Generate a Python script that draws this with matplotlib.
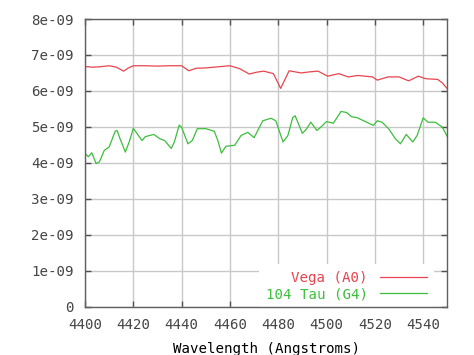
import numpy as np
import matplotlib
matplotlib.use("Agg")
import matplotlib.pyplot as plt
from matplotlib.ticker import FuncFormatter

# Vega (A0) spectrum (flux in 1e-9 units)
wl_vega = [4400, 4403, 4406, 4410, 4413, 4416, 4418, 4420, 4425, 4430, 4435, 4440,
           4443, 4446, 4450, 4455, 4460, 4464, 4468, 4471, 4474, 4478, 4481, 4484.5,
           4489.5, 4493, 4496.5, 4500.5, 4505, 4509, 4513, 4519, 4521, 4525.5, 4530,
           4534, 4538, 4541, 4546, 4548, 4550]
flux_vega = [6.68, 6.66, 6.67, 6.70, 6.66, 6.55, 6.64, 6.70, 6.70, 6.69, 6.70, 6.70,
             6.56, 6.63, 6.64, 6.67, 6.70, 6.62, 6.47, 6.52, 6.55, 6.48, 6.07, 6.56,
             6.50, 6.53, 6.55, 6.41, 6.48, 6.39, 6.43, 6.39, 6.30, 6.39, 6.39,
             6.28, 6.41, 6.34, 6.32, 6.22, 6.06]

# 104 Tau (G4) spectrum
wl_tau = [4400, 4401.4, 4402.8, 4404.6, 4406, 4408, 4410, 4412.5, 4413.3, 4414.3,
          4416.7, 4418.5, 4420, 4423.6, 4425, 4428.5, 4431, 4433, 4435.7, 4437,
          4439, 4440, 4442.6, 4444.4, 4446.5, 4450, 4453.5, 4455, 4456.5, 4458.3,
          4462, 4464.6, 4467.4, 4470, 4473.6, 4477, 4479, 4482, 4484, 4486,
          4487, 4490, 4491.7, 4493.5, 4496, 4497.6, 4500, 4502.8, 4506, 4508.3,
          4510.4, 4512.5, 4516, 4519.4, 4521, 4523, 4525.7, 4528.5, 4530.6, 4533,
          4535.7, 4537.5, 4540, 4542, 4545, 4548, 4550]
flux_tau = [4.26, 4.17, 4.28, 3.98, 4.03, 4.35, 4.44, 4.88, 4.90, 4.71,
            4.30, 4.62, 4.96, 4.62, 4.73, 4.79, 4.67, 4.62, 4.40, 4.58,
            5.05, 4.99, 4.53, 4.62, 4.95, 4.95, 4.88, 4.62, 4.27, 4.46,
            4.49, 4.76, 4.85, 4.70, 5.17, 5.24, 5.17, 4.58, 4.76, 5.26,
            5.31, 4.82, 4.94, 5.13, 4.90, 4.99, 5.15, 5.10, 5.43, 5.40,
            5.28, 5.26, 5.15, 5.04, 5.17, 5.13, 4.95, 4.67, 4.53, 4.79,
            4.58, 4.76, 5.25, 5.13, 5.13, 4.99, 4.73]

labels = ["Vega (A0)", "104 Tau (G4)"]
x_ticks = np.arange(4400, 4541, 20)
y_ticks = np.arange(0, 8.1e-9, 1e-9)

plt.rcParams['font.family'] = ['DejaVu Sans Mono']
plt.rcParams['font.size'] = 10.2
plt.rcParams['text.color'] = '#454545'

fig = plt.figure(figsize=(4.74, 3.55), dpi=100)
ax = fig.add_axes([85/474, 1-306.7/355, 362.3/474, 287.7/355])

ax.plot(wl_vega, np.array(flux_vega)*1e-9, color='#e8454f', lw=0.9, label=labels[0])
ax.plot(wl_tau, np.array(flux_tau)*1e-9, color='#3cbf3c', lw=0.9, label=labels[1])

ax.set_xlim(4400, 4550)
ax.set_ylim(0, 8e-9)
ax.set_xticks(x_ticks)
ax.set_yticks(y_ticks)

def yfmt(v, pos):
    if v == 0:
        return '0'
    return '%.0e' % v
ax.yaxis.set_major_formatter(FuncFormatter(yfmt))

ax.grid(True, color='#c8c8c8', lw=1.0)
ax.set_axisbelow(True)
for s in ax.spines.values():
    s.set_color('#606060')
    s.set_linewidth(1.0)
ax.tick_params(direction='in', length=4.5, width=1.0, color='#505050',
               top=True, right=True, labelcolor='#454545', pad=8)

ax.set_xlabel('Wavelength (Angstroms)', labelpad=7)

leg = ax.legend(loc='lower right', bbox_to_anchor=(1 - 13/362.3, -1.5/287.7),
                markerfirst=False, frameon=True,
                fancybox=False, framealpha=1, edgecolor='none', facecolor='white',
                handlelength=3.3, handletextpad=0.9, labelspacing=0.15,
                borderaxespad=0.0, borderpad=0.5, labelcolor='linecolor')
leg.get_frame().set_linewidth(0)
leg.set_zorder(2.4)  # keep ticks and frame on top of the key box

fig.savefig('out.png', dpi=100)
